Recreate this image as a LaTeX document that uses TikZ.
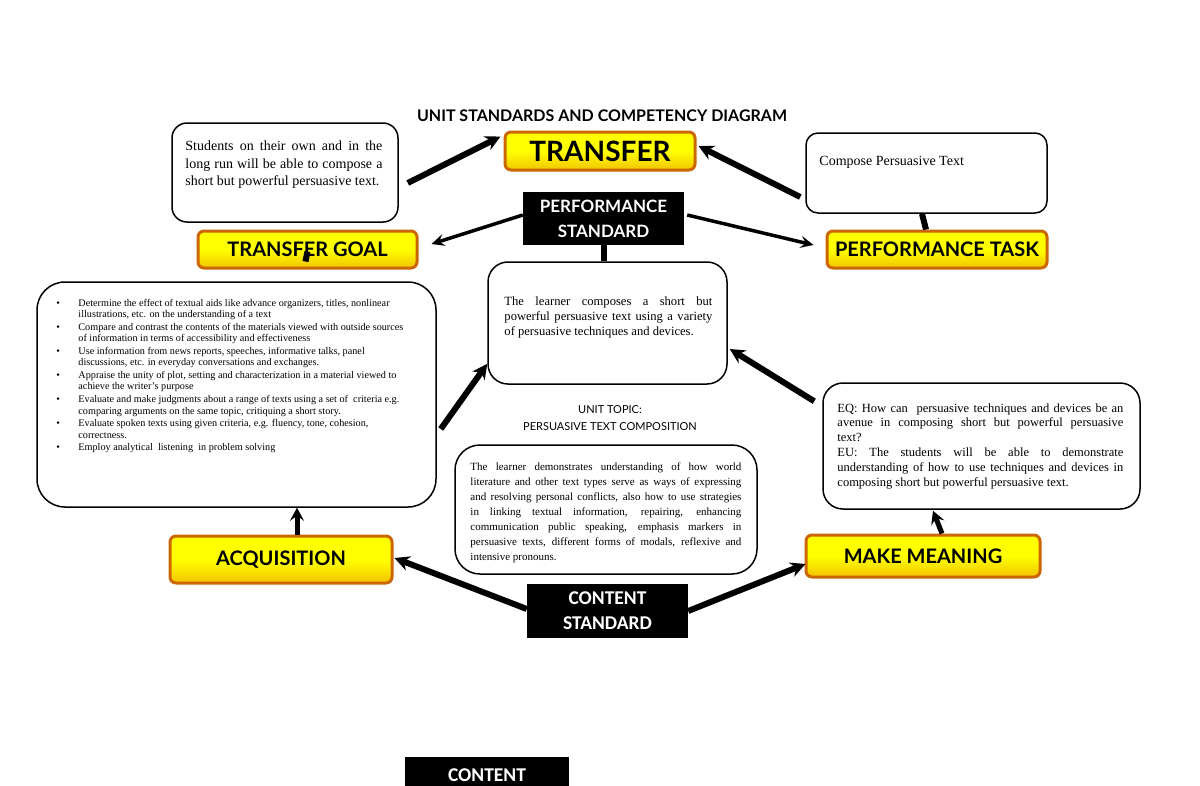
\documentclass[tikz,border=0pt]{standalone}
\usepackage{fontspec}
\setmainfont{Liberation Serif}
\newfontfamily\latofont{Lato}
\newfontfamily\carlitofont{Carlito}
\usetikzlibrary{arrows.meta}

\definecolor{goalfill}{HTML}{FFFF00}
\definecolor{goalshade}{HTML}{F2C400}
\definecolor{goalline}{HTML}{CC6600}

\tikzset{
  goal/.style={draw=goalline, line width=3pt, rounded corners=6pt,
    top color=goalfill, bottom color=goalshade, middle color=goalfill,
    inner sep=0pt, font=\latofont\bfseries\fontsize{20}{24}\selectfont},
  standard/.style={fill=black, text=white, inner sep=0pt, align=center},
  card/.style={draw, line width=1.5pt, fill=white, inner sep=0pt},
  cardtext/.style={anchor=north west, inner sep=0pt, align=justify},
  link/.style={line width=6pt, -{Stealth[length=15pt,width=15pt,inset=5pt]}},
  thinlink/.style={line width=3.5pt, -{Stealth[length=13pt,width=12pt,inset=5pt]}},
  shortlink/.style={line width=5pt, -{Stealth[length=13pt,width=14pt,inset=5pt]}},
  stub/.style={line width=6pt}
}

\begin{document}
\begin{tikzpicture}[x=1pt, y=-1pt]
\useasboundingbox (0,0) rectangle (1200,785);

\node [font=\latofont\bfseries\fontsize{16}{19}\selectfont] (title) at (602,116) {UNIT STANDARDS AND COMPETENCY DIAGRAM};

% top row
\node [goal, font=\latofont\bfseries\fontsize{28}{32}\selectfont, minimum width=190pt, minimum height=38pt] (transfer) at (600,151) {TRANSFER};
\node [card, rounded corners=15pt, minimum width=226pt, minimum height=99pt] (stud) at (285,172.5) {};
\node [cardtext, text width=197pt, font=\fontsize{14}{17.5}\selectfont] (stud text) at ([shift={(14,18.5)}]stud.north west) {Students on their own and in the\linebreak long run will be able to compose a\linebreak short but powerful persuasive text.};
\node [card, rounded corners=12pt, minimum width=241pt, minimum height=80pt] (compose) at (926.5,173) {};
\node [anchor=base west, inner sep=0pt, font=\fontsize{14}{17}\selectfont] (compose text) at ([shift={(14,33)}]compose.north west) {Compose Persuasive Text};

\node [goal, minimum width=219pt, minimum height=37pt] (tgoal) at (307.5,249.5) {TRANSFER GOAL};
\node [goal, minimum width=220pt, minimum height=37pt] (ptask) at (937,249.5) {PERFORMANCE TASK};
\node [standard, font=\latofont\bfseries\fontsize{17}{25}\selectfont, minimum width=161pt, minimum height=53pt] (perfstd) at (603.5,218.5) {PERFORMANCE\\STANDARD};

% middle row
\node [card, rounded corners=20pt, minimum width=239pt, minimum height=122pt] (learner) at (607.5,323) {};
\node [cardtext, text width=208pt, font=\fontsize{12.6}{15}\selectfont] (learner text) at ([shift={(17,35)}]learner.north west) {The learner composes a short but\linebreak powerful persuasive text using a variety\linebreak of persuasive techniques and devices.};

\node [card, rounded corners=28pt, minimum width=399pt, minimum height=225pt] (skills) at (236.5,394.5) {};
\node [anchor=north west, inner sep=0pt, font=\fontsize{10.2}{11.3}\selectfont] (skills text) at ([shift={(20,17)}]skills.north west) {%
\begin{tabular}{@{}p{22pt}@{}l@{}}
\textbullet & Determine the effect of textual aids like advance organizers, titles, nonlinear\\
 & illustrations, etc. on the understanding of a text\\[1.5pt]
\textbullet & Compare and contrast the contents of the materials viewed with outside sources\\
 & of information in terms of accessibility and effectiveness\\[1.5pt]
\textbullet & Use information from news reports, speeches, informative talks, panel\\
 & discussions, etc. in everyday conversations and exchanges.\\[1.5pt]
\textbullet & Appraise the unity of plot, setting and characterization in a material viewed to\\
 & achieve the writer’s purpose\\[1.5pt]
\textbullet & Evaluate and make judgments about a range of texts using a set of \ criteria e.g.\\
 & comparing arguments on the same topic, critiquing a short story.\\[1.5pt]
\textbullet & Evaluate spoken texts using given criteria, e.g. fluency, tone, cohesion,\\
 & correctness.\\[1.5pt]
\textbullet & Employ analytical \ listening \ in problem solving
\end{tabular}};

\node [align=center, font=\latofont\fontsize{11}{17}\selectfont] (topic) at (610,418.5) {UNIT TOPIC:\\PERSUASIVE TEXT COMPOSITION};

\node [card, rounded corners=20pt, minimum width=317pt, minimum height=126pt] (eq) at (981.5,446) {};
\node [cardtext, text width=286pt, font=\fontsize{12.5}{14.8}\selectfont] (eq text) at ([shift={(15,21)}]eq.north west) {EQ: How can \ persuasive techniques and devices be an\linebreak avenue in composing short but powerful persuasive\linebreak text?\\
EU: The students will be able to demonstrate\linebreak understanding of how to use techniques and devices in\linebreak composing short but powerful persuasive text.};

% bottom row
\node [card, rounded corners=25pt, minimum width=302pt, minimum height=129pt] (content) at (606,509.5) {};
\node [cardtext, text width=271pt, font=\fontsize{11}{15}\selectfont] (content text) at ([shift={(16,18)}]content.north west) {The learner demonstrates understanding of how world\linebreak literature and other text types serve as ways of expressing\linebreak and resolving personal conflicts, also how to use strategies\linebreak in linking textual information, repairing, enhancing\linebreak communication public speaking, emphasis markers in\linebreak persuasive texts, different forms of modals, reflexive and\linebreak intensive pronouns.};

\node [goal, minimum width=222pt, minimum height=47pt] (acq) at (281,559.5) {ACQUISITION};
\node [goal, minimum width=234pt, minimum height=42pt] (mm) at (923,556) {MAKE MEANING};
\node [standard, font=\carlitofont\bfseries\fontsize{19.5}{25}\selectfont, minimum width=161pt, minimum height=54pt] (cstd) at (607.5,611) {CONTENT\\STANDARD};

\node [standard, font=\carlitofont\bfseries\fontsize{19.5}{25}\selectfont, minimum width=164pt, minimum height=36pt, anchor=north] (contentb) at (487,757) {CONTENT};

% connectors
\draw [link] ([shift={(9,10.5)}]stud.east) -- ([shift={(-3,6)}]transfer.north west);
\draw [link] ([shift={(-5,24)}]compose.west) -- ([shift={(2,-5)}]transfer.east);
\draw [thinlink] ([shift={(0,-3.5)}]perfstd.west) -- ([shift={(13,-5.5)}]tgoal.east);
\draw [thinlink] ([shift={(3,-3.5)}]perfstd.east) -- ([shift={(-12,-4.5)}]ptask.west);
\draw [stub] (perfstd.south) -- (perfstd.south |- learner.north);
\draw [stub] ([xshift=-4.5pt]compose.south) -- ([xshift=-11pt]ptask.north);
\draw [stub] ([shift={(0,2)}]tgoal.center) -- ([shift={(-2,12)}]tgoal.center);
\draw [link] ([shift={(4,34.5)}]skills.east) -- ([shift={(0,-21)}]learner.south west);
\draw [link] ([shift={(-8,19)}]eq.north west) -- ([shift={(2,26)}]learner.east);
\draw [shortlink] ([xshift=16pt]acq.north) -- ([xshift=16pt]acq.north |- skills.south);
\draw [link] ([shift={(0,-2)}]cstd.west) -- ([shift={(1,-1.5)}]acq.east);
\draw [link] (cstd.east) -- ([shift={(1,8)}]mm.west);
\draw [shortlink] ([xshift=19pt]mm.north) -- ([shift={(-48.5,1)}]eq.south);
\end{tikzpicture}
\end{document}
